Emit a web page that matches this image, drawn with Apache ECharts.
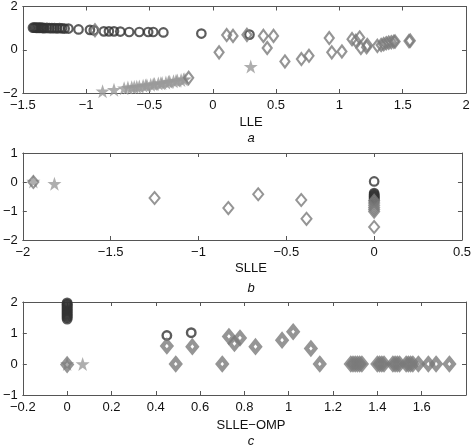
<!DOCTYPE html>
<html><head><meta charset="utf-8">
<script src="https://cdn.jsdelivr.net/npm/echarts@6/dist/echarts.min.js"></script>
<style>html,body{margin:0;padding:0;background:#fff}#c{width:474px;height:445px}</style>
</head><body><div id="c"></div>
<script>
// ---- Panel a: LLE ----
const lleCircles = [[-1.42,1.02],[-1.41,1.02],[-1.40,1.02],[-1.39,1.01],[-1.38,1.02],[-1.37,1.01],[-1.36,1.02],[-1.35,1.01],[-1.34,1.01],[-1.33,1.0],[-1.31,1.01],[-1.29,1.0],[-1.27,1.0],[-1.25,1.0],[-1.23,0.99],[-1.21,1.0],[-1.19,0.99],[-1.17,0.98],[-1.14,0.98],[-1.06,0.94],[-0.97,0.92],[-0.94,0.9],[-0.86,0.85],[-0.82,0.85],[-0.78,0.85],[-0.73,0.84],[-0.66,0.82],[-0.58,0.82],[-0.51,0.82],[-0.47,0.82],[-0.39,0.8],[-0.09,0.75],[0.29,0.70]];
const lleDiamonds = [[-0.93,0.9],[-0.19,-1.3],[0.05,-0.12],[0.11,0.68],[0.16,0.64],[0.27,0.69],[0.40,0.64],[0.48,0.64],[0.43,0.08],[0.57,-0.54],[0.70,-0.43],[0.76,-0.28],[0.92,0.54],[0.94,-0.12],[1.02,-0.08],[1.10,0.49],[1.13,0.41],[1.16,0.57],[1.17,0.08],[1.215,0.12],[1.22,0.22],[1.30,0.18],[1.33,0.22],[1.35,0.26],[1.37,0.3],[1.39,0.33],[1.41,0.35],[1.43,0.37],[1.44,0.38],[1.55,0.40],[1.56,0.42]];
const lleStars = [[-0.87,-1.92],[-0.78,-1.85],[-0.70,-1.78],[-0.67,-1.75],[-0.64,-1.73],[-0.62,-1.72],[-0.60,-1.71],[-0.58,-1.70],[-0.55,-1.66],[-0.53,-1.65],[-0.52,-1.64],[-0.49,-1.62],[-0.47,-1.60],[-0.46,-1.58],[-0.43,-1.56],[-0.41,-1.55],[-0.40,-1.54],[-0.37,-1.52],[-0.35,-1.49],[-0.34,-1.48],[-0.31,-1.46],[-0.29,-1.43],[-0.28,-1.42],[-0.25,-1.40],[-0.23,-1.37],[-0.22,-1.36],[0.30,-0.78]];
// ---- Panel b: SLLE ----
const slleCircles = [[0,0.02],[0,-0.38],[0,-0.42],[0,-0.45],[0,-0.48],[0,-0.5],[0,-0.53],[0,-0.55],[0,-0.58],[0,-0.6],[0,-0.65]];
const slleDiamonds = [[-1.94,0.0],[-1.25,-0.55],[-0.83,-0.9],[-0.66,-0.42],[-0.415,-0.62],[-0.385,-1.27],[0,-0.65],[0,-0.72],[0,-0.8],[0,-0.88],[0,-0.95],[0,-1.02],[0,-1.55]];
const slleStars = [[-1.94,0.02],[-1.82,-0.06]];
// ---- Panel c: SLLE-OMP ----
const ompCircles = [[0,1.97],[0,1.93],[0,1.9],[0,1.86],[0,1.82],[0,1.78],[0,1.74],[0,1.7],[0,1.66],[0,1.62],[0,1.58],[0,1.54],[0,1.5],[0,1.45],[0.45,0.92],[0.56,1.01]];
const ompDiamonds = [[0,-0.02],[0.45,0.58],[0.49,0.0],[0.565,0.56],[0.70,0.0],[0.73,0.89],[0.755,0.66],[0.78,0.84],[0.85,0.56],[0.97,0.77],[1.02,1.04],[1.10,0.5],[1.14,0.0],[1.28,0],[1.29,0],[1.30,0],[1.31,0],[1.32,0],[1.33,0],[1.40,0],[1.41,0],[1.42,0],[1.43,0],[1.47,0],[1.48,0],[1.49,0],[1.50,0],[1.53,0],[1.54,0],[1.55,0],[1.56,0],[1.585,0],[1.63,0],[1.665,0],[1.725,0]];
const ompStars = [[0,0],[0.07,0]];

// axis ranges
const xRanges = [[-1.5,2,0.5],[-2,0.5,0.5],[-0.2,1.8,0.2]];
const yRanges = [[-2,2,2],[-2,1,1],[-1,2,1]];
const xNames = ['LLE','SLLE','SLLE\u2212OMP'];
const panelLetters = ['a','b','c'];

const FONT = '"Liberation Sans", Arial, sans-serif';
const STAR = 'path://M50,0 L61.8,35.5 L99,35.5 L69,57.5 L80.5,93 L50,71 L19.5,93 L31,57.5 L1,35.5 L38.2,35.5 Z';
const fmt = v => { const s = String(+(+v).toFixed(2)); return s.replace('-', '\u2212'); };

const grids = [
  {left:19, right:8, top:5, height:88},
  {left:19, right:8, top:153, height:87},
  {left:19, right:8, top:302, height:93}
];
const xAxes = [], yAxes = [];
grids.forEach((g,i)=>{
  const [xmin,xmax,xi] = xRanges[i];
  const [ymin,ymax,yi] = yRanges[i];
  const common = {type:'value', gridIndex:i, splitLine:{show:false},
    axisLine:{show:true, onZero:false, lineStyle:{color:'#555', width:1}},
    axisTick:{show:true, inside:true, length:4, lineStyle:{color:'#555'}}};
  xAxes.push(Object.assign({}, common, {position:'bottom', min:xmin, max:xmax, interval:xi,
    axisLabel:{show:true, margin:6, color:'#111', fontSize:13, fontFamily:FONT, formatter:fmt, showMaxLabel: i!==2}}));
  xAxes.push(Object.assign({}, common, {position:'top', min:xmin, max:xmax, interval:xi, axisLabel:{show:false}}));
  yAxes.push(Object.assign({}, common, {position:'left', min:ymin, max:ymax, interval:yi,
    axisLabel:{show:true, margin:5, color:'#111', fontSize:13, fontFamily:FONT, formatter:fmt}}));
  yAxes.push(Object.assign({}, common, {position:'right', min:ymin, max:ymax, interval:yi, axisLabel:{show:false}}));
});

const circleStyle = bw => ({color:'rgba(0,0,0,0)', borderColor:'#333', borderWidth:bw});
const diamondStyle = bw => ({color:'rgba(0,0,0,0)', borderColor:'#7b7b7b', borderWidth:bw});
const starStyle = {color:'#9a9a9a'};
const panels = [
  {c:lleCircles, d:lleDiamonds, s:lleStars, csize:8.5, cbw:2.2, dsize:[9,12], dbw:2.2},
  {c:slleCircles, d:slleDiamonds, s:slleStars, csize:8.5, cbw:2.2, dsize:[10,12], dbw:2},
  {c:ompCircles, d:ompDiamonds, s:ompStars, csize:8.5, cbw:2.4, dsize:[9,11], dbw:4.2}
];
const series = [];
panels.forEach((p,i)=>{
  const ax = {xAxisIndex:2*i, yAxisIndex:2*i};
  series.push(Object.assign({type:'scatter', data:p.c, symbol:'circle', symbolSize:p.csize, itemStyle:circleStyle(p.cbw), silent:true}, ax));
  series.push(Object.assign({type:'scatter', data:p.s, symbol:STAR, symbolSize:14, itemStyle:starStyle, silent:true}, ax));
  series.push(Object.assign({type:'scatter', data:p.d, symbol:'diamond', symbolSize:p.dsize, itemStyle:diamondStyle(p.dbw), silent:true}, ax));
});

const nameY = [122, 268, 425], letterY = [138, 288, 441];
const graphic = [];
xNames.forEach((n,i)=>{
  graphic.push({type:'text', x:251, y:nameY[i], style:{text:n, font:'13px '+FONT, fill:'#111', textAlign:'center', textVerticalAlign:'middle'}});
  graphic.push({type:'text', x:251, y:letterY[i], style:{text:panelLetters[i], font:'italic 13px '+FONT, fill:'#111', textAlign:'center', textVerticalAlign:'middle'}});
});

const chart = echarts.init(document.getElementById('c'), null, {renderer:'canvas'});
chart.setOption({animation:false, backgroundColor:'#fff', grid:grids, xAxis:xAxes, yAxis:yAxes, series:series, graphic:graphic});
</script></body></html>
